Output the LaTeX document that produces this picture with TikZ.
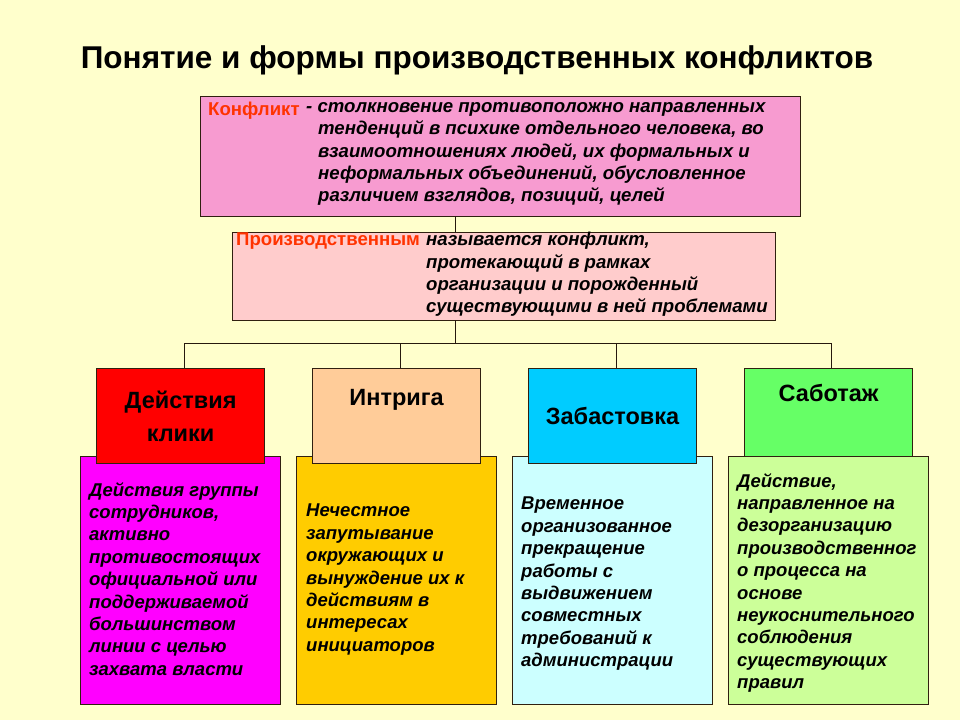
\documentclass[tikz,border=0pt]{standalone}
\usepackage{fontspec}
\setmainfont{Liberation Sans}
\begin{document}
\begin{tikzpicture}[x=1pt,y=-1pt,
  box/.style={draw=black!75!brown,line width=1.2pt,anchor=north west,inner sep=0pt},
  hdr/.style={box,minimum width=168pt,minimum height=95pt,align=center,font=\fontsize{23.5}{33}\selectfont\bfseries},
  low/.style={box,minimum width=200pt,minimum height=248pt},
  ltxt/.style={anchor=north west,align=left,inner sep=0pt,font=\fontsize{18.5}{22.4}\selectfont\bfseries\itshape},
  ttxt/.style={anchor=north west,align=left,inner sep=0pt,font=\fontsize{18.6}{22.4}\selectfont\bfseries\itshape},
  red/.style={text={rgb,255:red,255;green,51;blue,0}},
  wire/.style={draw=black!80!brown,line width=1pt}]
\fill[fill={rgb,255:red,255;green,255;blue,204}] (0,0) rectangle (960,720);
\useasboundingbox (0,0) rectangle (960,720);
\node[font=\fontsize{31.5}{36}\selectfont\bfseries] (title) at (477,60) {Понятие и формы производственных конфликтов};
% top boxes
\node[box,fill={rgb,255:red,247;green,155;blue,208},minimum width=600pt,minimum height=120pt] (b1) at (200,96) {};
\node[box,fill={rgb,255:red,255;green,204;blue,204},minimum width=543pt,minimum height=88pt] (b2) at (232,232) {};
\node[ttxt,red] (k) at (208,102) {\upshape Конфликт};
\node[ttxt] (kt) at (306,102) {- столкновение противоположно направленных\\
\hspace*{12pt}тенденций в психике отдельного человека, во\\
\hspace*{12pt}взаимоотношениях людей, их формальных и\\
\hspace*{12pt}неформальных объединений, обусловленное\\
\hspace*{12pt}различием взглядов, позиций, целей};
\node[ttxt,red] (p) at (236,232) {\upshape Производственным};
\node[ttxt] (pt) at (426,232) {называется конфликт,\\протекающий в рамках\\организации и порожденный\\существующими в ней проблемами};
% connectors
\coordinate (c1) at (455,216);
\coordinate (c2) at (455,232);
\coordinate (c3) at (455,320);
\coordinate (c4) at (455,343);
\coordinate (hl) at (184,343);
\coordinate (hr) at (831,343);
\draw[wire] (c1) -- (c2);
\draw[wire] (c3) -- (c4);
\draw[wire] (hl) -- (hr);
% lower boxes
\node[low,fill={rgb,255:red,255;green,0;blue,255}] (l1) at (80,456) {};
\node[low,fill={rgb,255:red,255;green,204;blue,0}] (l2) at (296,456) {};
\node[low,fill={rgb,255:red,204;green,255;blue,255}] (l3) at (512,456) {};
\node[low,fill={rgb,255:red,204;green,255;blue,153}] (l4) at (728,456) {};
% headers
\node[hdr,fill={rgb,255:red,255;green,0;blue,0}] (h1) at (96,368) {Действия\\клики};
\node[hdr,fill={rgb,255:red,255;green,204;blue,153}] (h2) at (312,368) {Интрига\\[4pt]};
\node[hdr,fill={rgb,255:red,0;green,204;blue,255}] (h3) at (528,368) {Забастовка};
\node[hdr,fill={rgb,255:red,102;green,255;blue,102},minimum height=88pt] (h4) at (744,368) {Саботаж\\[6pt]};
\foreach \h/\x in {h1/184,h2/400,h3/616,h4/831}{
  \coordinate (t\h) at (\x,343);
  \draw[wire] (t\h) -- (t\h |- \h.north);
}
% texts
\node[ltxt] (t1) at (89,482) {Действия группы\\сотрудников,\\активно\\противостоящих\\официальной или\\поддерживаемой\\большинством\\линии с целью\\захвата власти};
\node[ltxt] (t2) at (306,504) {Нечестное\\запутывание\\окружающих и\\вынуждение их к\\действиям в\\интересах\\инициаторов};
\node[ltxt] (t3) at (521,497) {Временное\\организованное\\прекращение\\работы с\\выдвижением\\совместных\\требований к\\администрации};
\node[ltxt] (t4) at (737,473) {Действие,\\направленное на\\дезорганизацию\\производственног\\о процесса на\\основе\\неукоснительного\\соблюдения\\существующих\\правил};
\end{tikzpicture}
\end{document}
